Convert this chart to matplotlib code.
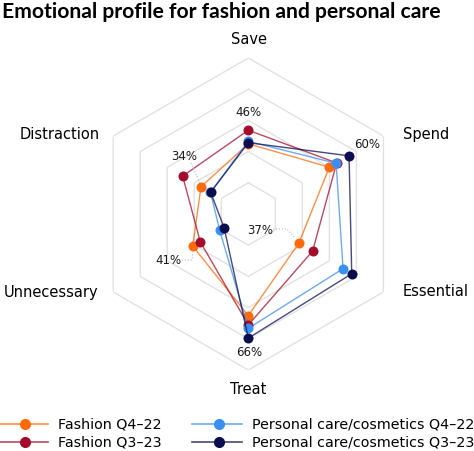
import numpy as np
import matplotlib
matplotlib.use('Agg')
import matplotlib.pyplot as plt

W, H = 474, 452

categories = ['Save', 'Spend', 'Essential', 'Treat', 'Unnecessary', 'Distraction']
series_names = ['Fashion Q4–22', 'Fashion Q3–23',
                'Personal care/cosmetics Q4–22', 'Personal care/cosmetics Q3–23']
fashion_q4_22 = [41.5, 52.0, 36.2, 55.6, 38.8, 34.5]
fashion_q3_23 = [47.6, 55.8, 43.3, 59.8, 34.9, 44.0]
care_q4_22 = [42.6, 55.5, 59.1, 61.3, 24.8, 29.6]
care_q3_23 = [42.0, 62.2, 63.6, 65.7, 22.5, 29.5]
colors = ['#FF6A0D', '#A30D2B', '#3B8EF2', '#0B0D4F']

r_min, r_max = 10, 80
ring_levels = [24, 38, 52, 66, 80]

# callout labels: text, text position (px), leader line (px)
callouts = [
    ('46%', (248, 113), None),
    ('60%', (367, 145), None),
    ('66%', (249, 353), None),
    ('34%', (184, 157), [(191, 164), (200, 184)]),
    ('37%', (260, 231), [(273, 230), (287, 230), (295, 239)]),
    ('41%', (168, 261), [(179, 261), (192, 261), (193, 250)]),
]


def fx(px):
    return px / W


def fy(py):
    return 1 - py / H


plt.rcParams['font.family'] = ['DejaVu Sans']
fig = plt.figure(figsize=(W / 100, H / 100), dpi=100)

cx, cy, R = 248.3, 215, 156
ax = fig.add_axes([fx(cx - R), fy(cy + R), 2 * R / W, 2 * R / H], projection='polar')
ax.set_theta_zero_location('N')
ax.set_theta_direction(-1)
ax.set_ylim(r_min, r_max)
ax.grid(False)
ax.spines['polar'].set_visible(False)
ax.set_xticks([])
ax.set_yticks([])
ax.patch.set_alpha(0)

angles = np.deg2rad(np.arange(0, 360, 60))
closed = np.append(angles, angles[0])

for lvl in ring_levels:
    ax.plot(closed, [lvl] * 7, color='#E2E2E2', lw=1, zorder=1)

all_series = [fashion_q4_22, fashion_q3_23, care_q4_22, care_q3_23]
draw_order = [2, 0, 1, 3]
for i in draw_order:
    vals = all_series[i] + all_series[i][:1]
    ax.plot(closed, vals, color=colors[i], lw=1, alpha=0.75, zorder=2 + i)
    ax.plot(angles, all_series[i], 'o', color=colors[i], ms=7.2, mew=0, zorder=3 + i)
ax.set_rorigin(r_min)

# axis labels
fig.text(fx(248.5), fy(40), 'Save', ha='center', va='center', fontsize=10.5)
fig.text(fx(403), fy(135), 'Spend', ha='left', va='center', fontsize=10.5)
fig.text(fx(403), fy(292), 'Essential', ha='left', va='center', fontsize=10.5)
fig.text(fx(248.5), fy(390), 'Treat', ha='center', va='center', fontsize=10.5)
fig.text(fx(98), fy(292), 'Unnecessary', ha='right', va='center', fontsize=10.5)
fig.text(fx(100), fy(135), 'Distraction', ha='right', va='center', fontsize=10.5)

# overlay for callouts and legend, in pixel coords
ov = fig.add_axes([0, 0, 1, 1])
ov.set_xlim(0, W)
ov.set_ylim(H, 0)
ov.axis('off')
ov.patch.set_alpha(0)

for txt, (tx, ty), leader in callouts:
    ov.text(tx, ty, txt, ha='center', va='center', fontsize=8.5, color='#1a1a1a')
    if leader:
        xs, ys = zip(*leader)
        ov.plot(xs, ys, color='#BBBBBB', lw=0.8, ls=':')

# legend
leg_x = [0, 194]
leg_y = [425, 443]
for i, name in enumerate(series_names):
    x0 = leg_x[i // 2]
    y0 = leg_y[i % 2]
    ov.plot([x0 - 2, x0 + 48], [y0, y0], color=colors[i], lw=1.2, alpha=0.75)
    ov.plot([x0 + 25], [y0], 'o', color=colors[i], ms=8, mew=0)
    ov.text(x0 + 58, y0, name, ha='left', va='center', fontsize=10.3)

fig.text(0.004, fy(12), 'Emotional profile for fashion and personal care',
         ha='left', va='center', fontsize=15.2, fontweight='bold',
         family=['Lato', 'DejaVu Sans'])

fig.savefig('out.png', dpi=100)
